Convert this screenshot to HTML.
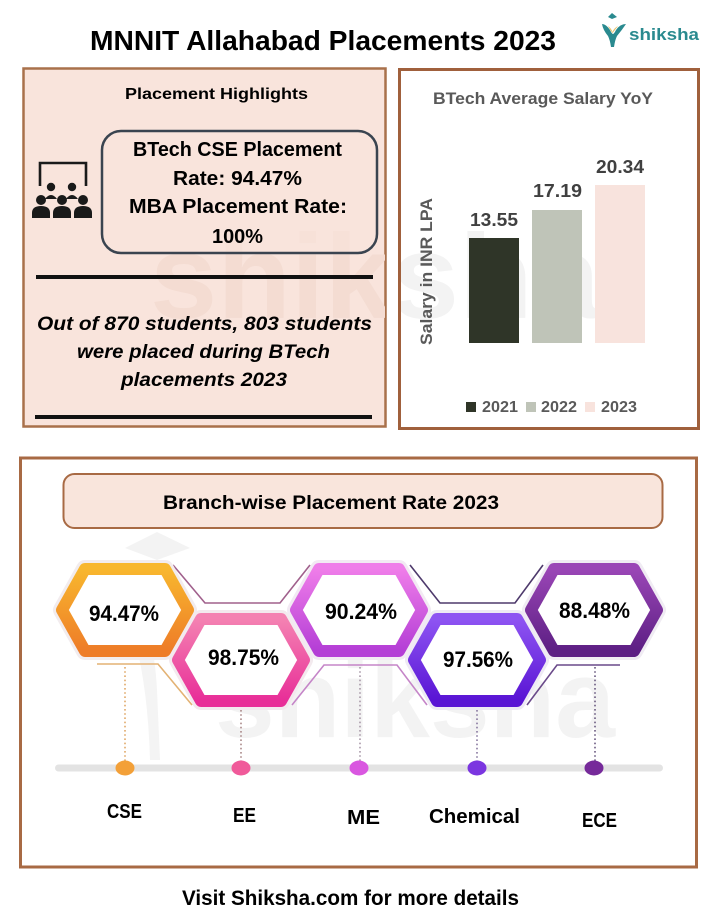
<!DOCTYPE html>
<html>
<head>
<meta charset="utf-8">
<style>
html,body{margin:0;padding:0;background:#fff;}
svg{display:block;}
text{font-family:"Liberation Sans",sans-serif;font-weight:bold;}
</style>
</head>
<body>
<svg width="703" height="913" viewBox="0 0 703 913" xmlns="http://www.w3.org/2000/svg">
<defs>
  <linearGradient id="g1" x1="0" y1="0" x2="0" y2="1"><stop offset="0" stop-color="#f8b72e"/><stop offset="1" stop-color="#ee7c28"/></linearGradient>
  <linearGradient id="g2" x1="0" y1="0" x2="0" y2="1"><stop offset="0" stop-color="#f482b2"/><stop offset="1" stop-color="#e82e98"/></linearGradient>
  <linearGradient id="g3" x1="0" y1="0" x2="0" y2="1"><stop offset="0" stop-color="#ef7de9"/><stop offset="1" stop-color="#b43ed6"/></linearGradient>
  <linearGradient id="g4" x1="0" y1="0" x2="0" y2="1"><stop offset="0" stop-color="#8e54f2"/><stop offset="1" stop-color="#5914d4"/></linearGradient>
  <linearGradient id="g5" x1="0" y1="0" x2="0" y2="1"><stop offset="0" stop-color="#9a46b6"/><stop offset="1" stop-color="#5d1f84"/></linearGradient>
  <clipPath id="cL"><rect x="24" y="69" width="361" height="357"/></clipPath>
  <clipPath id="cR"><rect x="401" y="71" width="296" height="356"/></clipPath>
</defs>

<!-- Title -->
<text x="90" y="50" font-size="28" fill="#000" textLength="466" lengthAdjust="spacingAndGlyphs">MNNIT Allahabad Placements 2023</text>

<!-- Logo -->
<path d="M608 17 L612 13 L617 17 L612 19 Z" fill="#2a8a8f"/>
<path d="M602 24 Q606 24 610 30 Q612 34 613 34 Q614 34 616 30 Q620 24 626 24 Q622 30 617 36 Q615 40 614 47 L611 47 Q610 40 608 36 Q603 30 602 24 Z" fill="#2a8a8f"/>
<path d="M608 26 Q611 28 612.5 32 Q614 28 618 26 Q615 30 612.5 33 Q610 30 608 26 Z" fill="#e8c16a"/>
<text x="629" y="40" font-size="17" fill="#2a8a8f" textLength="70" lengthAdjust="spacingAndGlyphs">shiksha</text>

<!-- Left panel -->
<rect x="23.5" y="68.5" width="362" height="358" fill="#f9e4dc" stroke="#a9714b" stroke-width="2.5"/>
<g clip-path="url(#cL)">
  <text x="150" y="318" font-size="120" fill="#f4dcd2" textLength="450" lengthAdjust="spacingAndGlyphs">shiksha</text>
</g>
<text x="125" y="99" font-size="16" fill="#000" textLength="183" lengthAdjust="spacingAndGlyphs">Placement Highlights</text>

<!-- Icon -->
<g fill="#1a1a1a">
  <path d="M40 186 V163 H86 V186" fill="none" stroke="#1a1a1a" stroke-width="2.6"/>
  <circle cx="51" cy="187" r="4.2"/>
  <circle cx="72" cy="187" r="4.2"/>
  <path d="M45 199 Q51 191 57 199 Z"/>
  <path d="M66 199 Q72 191 78 199 Z"/>
  <circle cx="41" cy="200" r="5"/>
  <circle cx="62" cy="200" r="5"/>
  <circle cx="83" cy="200" r="5"/>
  <path d="M32 218 V213 Q32 206 41 206 Q50 206 50 213 V218 Z"/>
  <path d="M53 218 V213 Q53 206 62 206 Q71 206 71 213 V218 Z"/>
  <path d="M74 218 V213 Q74 206 83 206 Q92 206 92 213 V218 Z"/>
</g>

<!-- Rounded box -->
<rect x="102" y="131" width="275" height="122" rx="19" fill="#f9e4dc" fill-opacity="0.6" stroke="#3a4450" stroke-width="2.5"/>
<text x="133" y="156" font-size="20" fill="#000" textLength="209" lengthAdjust="spacingAndGlyphs">BTech CSE Placement</text>
<text x="173" y="185" font-size="20" fill="#000" textLength="129" lengthAdjust="spacingAndGlyphs">Rate: 94.47%</text>
<text x="129" y="213" font-size="20" fill="#000" textLength="218" lengthAdjust="spacingAndGlyphs">MBA Placement Rate:</text>
<text x="212" y="243" font-size="20" fill="#000" textLength="51" lengthAdjust="spacingAndGlyphs">100%</text>

<rect x="36" y="275" width="337" height="4" fill="#111"/>
<text x="37" y="330" font-size="19" font-style="italic" fill="#000" textLength="335" lengthAdjust="spacingAndGlyphs">Out of 870 students, 803 students</text>
<text x="77" y="358" font-size="19" font-style="italic" fill="#000" textLength="253" lengthAdjust="spacingAndGlyphs">were placed during BTech</text>
<text x="121" y="386" font-size="19" font-style="italic" fill="#000" textLength="166" lengthAdjust="spacingAndGlyphs">placements 2023</text>
<rect x="35" y="415" width="337" height="4" fill="#111"/>

<!-- Right panel -->
<rect x="399.5" y="69.5" width="299" height="359" fill="#fff" stroke="#a0603c" stroke-width="3"/>
<g clip-path="url(#cR)">
  <text x="150" y="318" font-size="120" fill="#f3f3f3" textLength="450" lengthAdjust="spacingAndGlyphs">shiksha</text>
</g>
<text x="433" y="104" font-size="16.5" fill="#595959" textLength="220" lengthAdjust="spacingAndGlyphs">BTech Average Salary  YoY</text>
<rect x="469" y="238" width="50" height="105" fill="#2f3528"/>
<rect x="532" y="210" width="50" height="133" fill="#bfc4b8"/>
<rect x="595" y="185" width="50" height="158" fill="#f8e3dd"/>
<text x="470" y="226" font-size="18" fill="#404040" textLength="48" lengthAdjust="spacingAndGlyphs">13.55</text>
<text x="533" y="197" font-size="18" fill="#404040" textLength="49" lengthAdjust="spacingAndGlyphs">17.19</text>
<text x="596" y="173" font-size="18" fill="#404040" textLength="48" lengthAdjust="spacingAndGlyphs">20.34</text>
<text transform="translate(432,345) rotate(-90)" x="0" y="0" font-size="16.5" fill="#595959" textLength="147" lengthAdjust="spacingAndGlyphs">Salary in INR LPA</text>
<rect x="466" y="402" width="10" height="10" fill="#2f3528"/>
<text x="482" y="412" font-size="16" fill="#595959" textLength="36" lengthAdjust="spacingAndGlyphs">2021</text>
<rect x="526" y="402" width="10" height="10" fill="#bfc4b8"/>
<text x="541" y="412" font-size="16" fill="#595959" textLength="36" lengthAdjust="spacingAndGlyphs">2022</text>
<rect x="585" y="402" width="10" height="10" fill="#f8e3dd"/>
<text x="601" y="412" font-size="16" fill="#595959" textLength="36" lengthAdjust="spacingAndGlyphs">2023</text>

<!-- Bottom panel -->
<rect x="20.5" y="458" width="676" height="409" fill="#fff" stroke="#a86a44" stroke-width="3"/>
<!-- watermark -->
<path d="M125 548 L157 532 L190 548 L157 560 Z" fill="#f3f3f3"/>
<path d="M105 575 Q130 575 145 620 Q155 650 157 690 L160 760 L150 760 Q148 690 135 640 Q120 595 105 575 Z" fill="#f4f4f4"/>
<text x="215" y="737" font-size="110" fill="#f3f3f3" textLength="400" lengthAdjust="spacingAndGlyphs">shiksha</text>

<rect x="63.5" y="474" width="599" height="54" rx="11" fill="#f9e5dc" stroke="#a86a44" stroke-width="2"/>
<text x="163" y="509" font-size="19.5" fill="#000" textLength="336" lengthAdjust="spacingAndGlyphs">Branch-wise Placement Rate 2023</text>

<!-- connectors -->
<g fill="none" stroke-width="1.6">
  <path d="M173 565 L205 603 H280 L310 565" stroke="#a0608c"/>
  <path d="M410 565 L440 603 H515 L543 565" stroke="#4e3a6c"/>
  <path d="M97 664 H158 L192 705" stroke="#e3b274"/>
  <path d="M292 705 L324 665 H397 L427 705" stroke="#c585c8"/>
  <path d="M527 705 L557 665 H620" stroke="#6a4a8a"/>
</g>

<!-- dotted lines -->
<g stroke-width="1.6" stroke-dasharray="1.6 2.6" fill="none">
  <line x1="125" y1="667" x2="125" y2="762" stroke="#e0a868"/>
  <line x1="241" y1="710" x2="241" y2="762" stroke="#a88"/>
  <line x1="360" y1="667" x2="360" y2="762" stroke="#a898a8"/>
  <line x1="477" y1="710" x2="477" y2="762" stroke="#8878a0"/>
  <line x1="595" y1="667" x2="595" y2="762" stroke="#6a5a80"/>
</g>

<!-- hexagons -->
<g stroke-linejoin="round">
  <path d="M62 610 L85 569 L165 569 L188 610 L165 651 L85 651 Z" fill="none" stroke="#f2ecee" stroke-width="18"/>
  <path d="M178 660 L201 619 L281 619 L304 660 L281 701 L201 701 Z" fill="none" stroke="#f3eaee" stroke-width="18"/>
  <path d="M296 610 L319 569 L399 569 L422 610 L399 651 L319 651 Z" fill="none" stroke="#f2eaf3" stroke-width="18"/>
  <path d="M414 660 L437 619 L517 619 L540 660 L517 701 L437 701 Z" fill="none" stroke="#eeeaf4" stroke-width="18"/>
  <path d="M531 610 L554 569 L634 569 L657 610 L634 651 L554 651 Z" fill="none" stroke="#f0ecf3" stroke-width="18"/>

  <path d="M62 610 L85 569 L165 569 L188 610 L165 651 L85 651 Z" fill="#fff" stroke="url(#g1)" stroke-width="12"/>
  <path d="M178 660 L201 619 L281 619 L304 660 L281 701 L201 701 Z" fill="#fff" stroke="url(#g2)" stroke-width="12"/>
  <path d="M296 610 L319 569 L399 569 L422 610 L399 651 L319 651 Z" fill="#fff" stroke="url(#g3)" stroke-width="12"/>
  <path d="M414 660 L437 619 L517 619 L540 660 L517 701 L437 701 Z" fill="#fff" stroke="url(#g4)" stroke-width="12"/>
  <path d="M531 610 L554 569 L634 569 L657 610 L634 651 L554 651 Z" fill="#fff" stroke="url(#g5)" stroke-width="12"/>
</g>
<text x="89" y="621" font-size="22" fill="#000" textLength="70" lengthAdjust="spacingAndGlyphs">94.47%</text>
<text x="208" y="665" font-size="22" fill="#000" textLength="71" lengthAdjust="spacingAndGlyphs">98.75%</text>
<text x="325" y="619" font-size="22" fill="#000" textLength="72" lengthAdjust="spacingAndGlyphs">90.24%</text>
<text x="443" y="667" font-size="22" fill="#000" textLength="70" lengthAdjust="spacingAndGlyphs">97.56%</text>
<text x="559" y="618" font-size="22" fill="#000" textLength="71" lengthAdjust="spacingAndGlyphs">88.48%</text>

<!-- timeline -->
<rect x="55" y="764.5" width="608" height="7" rx="3.5" fill="#e3e3e3"/>
<ellipse cx="125" cy="768" rx="9.5" ry="7.5" fill="#f3a038"/>
<ellipse cx="241" cy="768" rx="9.5" ry="7.5" fill="#f05a9a"/>
<ellipse cx="359" cy="768" rx="9.5" ry="7.5" fill="#d957e0"/>
<ellipse cx="477" cy="768" rx="9.5" ry="7.5" fill="#7b36e0"/>
<ellipse cx="594" cy="768" rx="9.5" ry="7.5" fill="#762a9a"/>

<text x="107" y="818" font-size="20.5" fill="#000" textLength="35" lengthAdjust="spacingAndGlyphs">CSE</text>
<text x="233" y="822" font-size="20.5" fill="#000" textLength="23" lengthAdjust="spacingAndGlyphs">EE</text>
<text x="347" y="824" font-size="20.5" fill="#000" textLength="33" lengthAdjust="spacingAndGlyphs">ME</text>
<text x="429" y="823" font-size="20.5" fill="#000" textLength="91" lengthAdjust="spacingAndGlyphs">Chemical</text>
<text x="582" y="827" font-size="20.5" fill="#000" textLength="35" lengthAdjust="spacingAndGlyphs">ECE</text>

<!-- Footer -->
<text x="182" y="905" font-size="21" fill="#000" textLength="337" lengthAdjust="spacingAndGlyphs">Visit Shiksha.com for more details</text>
</svg>
</body>
</html>
